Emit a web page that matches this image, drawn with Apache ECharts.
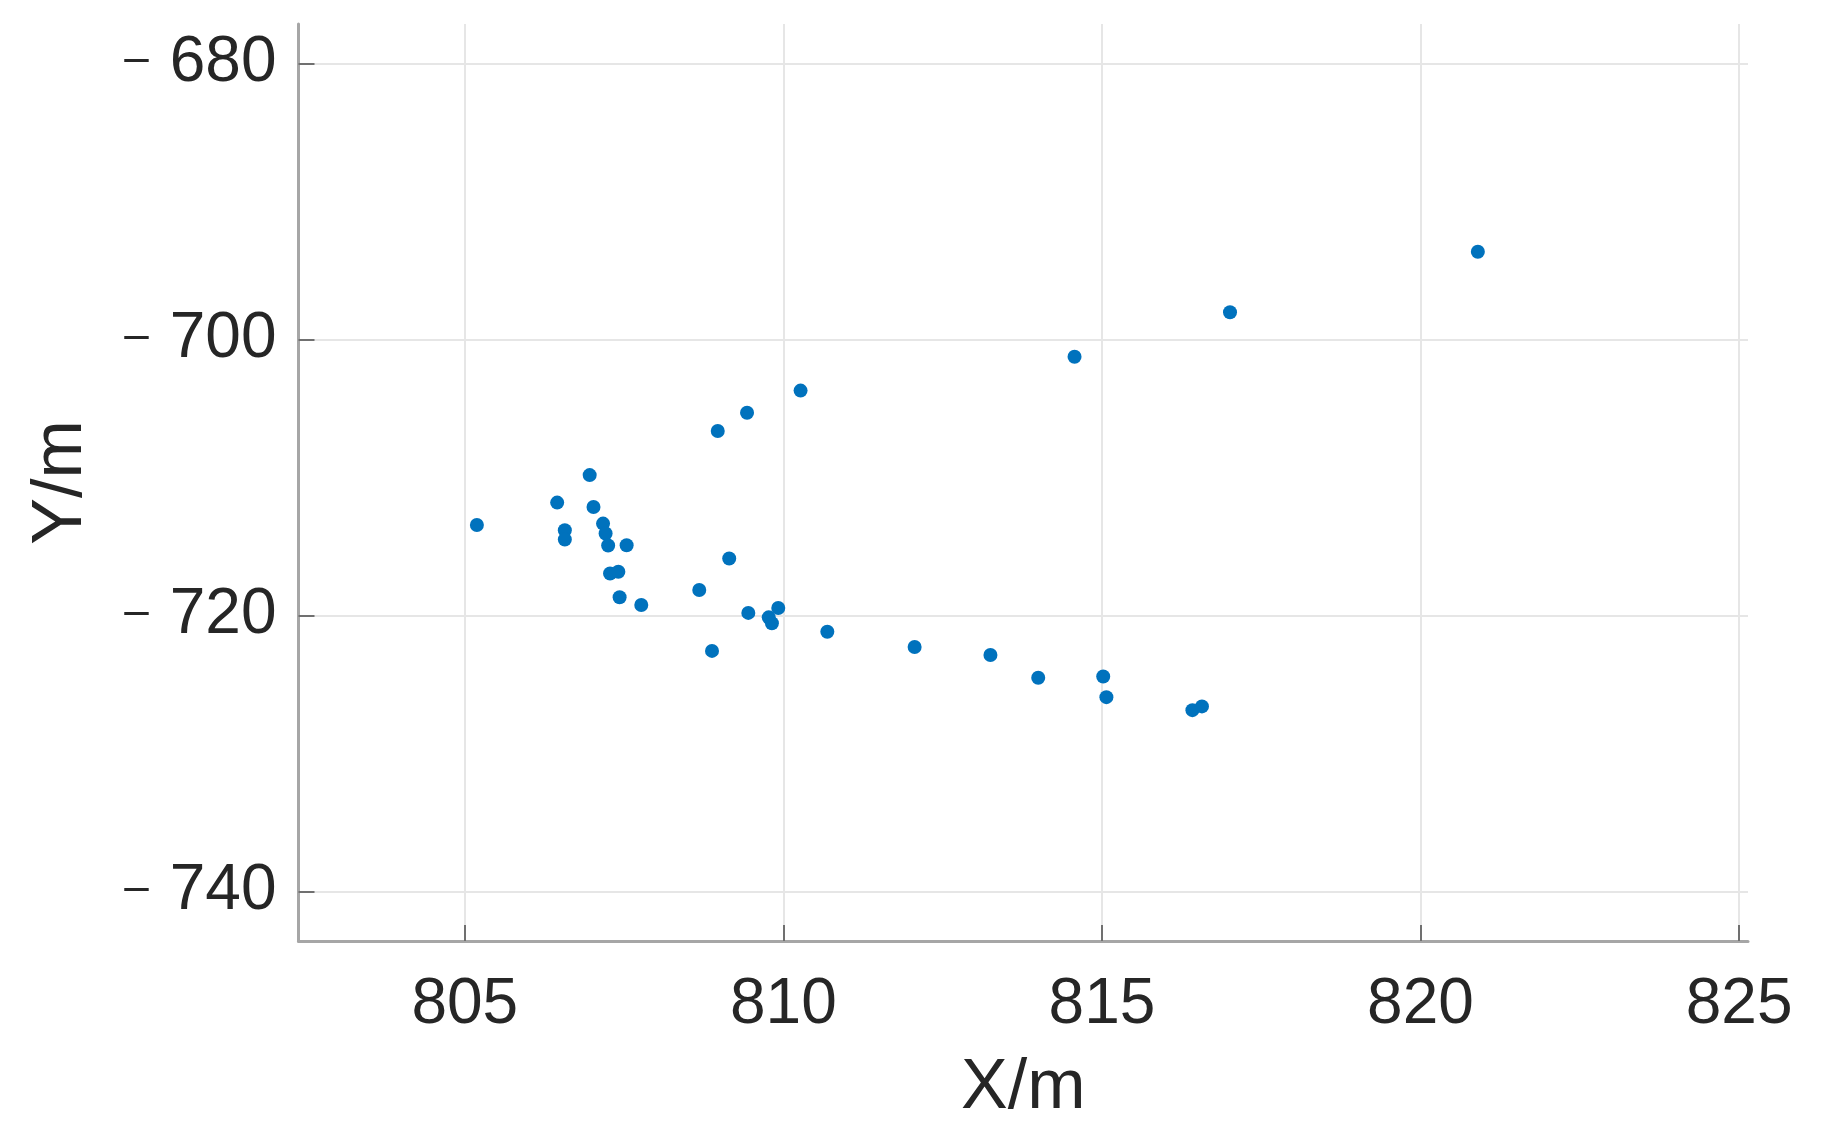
<!DOCTYPE html>
<html>
<head>
<meta charset="utf-8">
<script src="https://cdn.jsdelivr.net/npm/echarts@6/dist/echarts.min.js"></script>
<style>
html,body{margin:0;padding:0;background:#fff;}
#c{width:1822px;height:1146px;}
</style>
</head>
<body>
<div id="c"></div>
<script>
const xValues = [820.90, 817.01, 814.57, 810.27, 809.43, 808.97, 806.96, 806.45, 807.02, 805.19,
  807.17, 806.57, 807.21, 806.57, 807.25, 807.54, 809.15, 807.28, 807.41, 808.68,
  807.43, 807.77, 809.92, 809.45, 809.77, 809.82, 810.69, 808.88, 812.06, 813.25,
  814.00, 815.02, 815.07, 816.42, 816.57];
const yValues = [-693.64, -698.02, -701.25, -703.70, -705.30, -706.63, -709.82, -711.81, -712.13, -713.43,
  -713.33, -713.81, -714.05, -714.48, -714.92, -714.90, -715.86, -716.94, -716.82, -718.14,
  -718.67, -719.23, -719.44, -719.80, -720.12, -720.55, -721.16, -722.55, -722.27, -722.85,
  -724.50, -724.41, -725.90, -726.84, -726.57];
const xTicks = [805, 810, 815, 820, 825];
const yTicks = [-740, -720, -700, -680];
const xName = 'X/m';
const yName = 'Y/m';

const points = xValues.map((x, i) => [x, yValues[i]]);
const labelColor = '#262626';
const fontFamily = 'Liberation Sans, Arial, Helvetica, sans-serif';

function fmt(v) {
  return v < 0 ? '{m|\u2013}{n|' + Math.abs(v) + '}' : '{n|' + v + '}';
}

const chart = echarts.init(document.getElementById('c'), null, {renderer: 'canvas'});
chart.setOption({
  animation: false,
  backgroundColor: '#ffffff',
  grid: {left: 298.5, top: 24, width: 1449.5, height: 917, containLabel: false, outerBoundsMode: 'none'},
  xAxis: {
    type: 'value',
    min: 802.39, max: 825.14,
    name: xName, nameLocation: 'middle', nameGap: 113,
    nameTextStyle: {fontSize: 70, color: labelColor, fontFamily: fontFamily},
    axisLine: {show: true, onZero: false, lineStyle: {color: '#a6a6a6', width: 3}},
    axisTick: {show: true, inside: true, length: 16, customValues: xTicks, lineStyle: {color: '#707070', width: 2}},
    axisLabel: {show: true, margin: 32, fontSize: 64, color: labelColor, fontFamily: fontFamily, customValues: xTicks},
    splitLine: {show: true, lineStyle: {color: '#e6e6e6', width: 2}}
  },
  yAxis: {
    type: 'value',
    min: -743.56, max: -677.15,
    name: yName, nameLocation: 'middle', nameGap: 202,
    nameTextStyle: {fontSize: 70, color: labelColor, fontFamily: fontFamily},
    axisLine: {show: true, onZero: false, lineStyle: {color: '#a6a6a6', width: 3}},
    axisTick: {show: true, inside: true, length: 16, customValues: yTicks, lineStyle: {color: '#707070', width: 2}},
    axisLabel: {
      show: true, margin: 22, color: labelColor, fontFamily: fontFamily, customValues: yTicks, formatter: fmt,
      rich: {
        m: {fontSize: 44, color: labelColor, fontFamily: fontFamily, padding: [0, 21, 6, 0]},
        n: {fontSize: 64, color: labelColor, fontFamily: fontFamily}
      }
    },
    splitLine: {show: true, lineStyle: {color: '#e6e6e6', width: 2}}
  },
  series: [{
    type: 'scatter',
    data: points,
    symbol: 'circle',
    symbolSize: 14,
    itemStyle: {color: '#0072BD', opacity: 1},
    emphasis: {disabled: true}
  }]
});
</script>
</body>
</html>
